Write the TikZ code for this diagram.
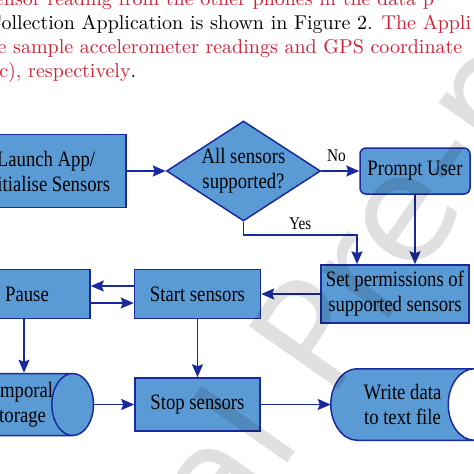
\documentclass[tikz,border=0pt]{standalone}
\usepackage{fontspec}
\usetikzlibrary{arrows.meta, positioning, calc, shapes.geometric, backgrounds}
\newfontfamily\chartfont[FakeStretch=0.85]{Liberation Serif}
\newfontfamily\paperfont{lmroman10-regular.otf}
\newfontfamily\markfont{DejaVu Sans}
\definecolor{boxblue}{HTML}{5B9BD5}
\definecolor{lineblue}{HTML}{1A2A9E}
\definecolor{textred}{HTML}{CC2136}
\tikzset{
    box/.style={rectangle, draw=lineblue, fill=boxblue, line width=1.5pt, align=center, inner sep=2pt, font=\chartfont\fontsize{22}{25}\selectfont},
    roundbox/.style={box, rounded corners=6pt},
    decision/.style={box, diamond, aspect=1.5, inner sep=-3pt, minimum width=154pt, minimum height=100pt},
    store/.style={box, cylinder, shape aspect=0.85, cylinder uses custom fill, cylinder body fill=boxblue, cylinder end fill=boxblue, inner xsep=-2pt, minimum width=62pt, minimum height=100pt},
    filebox/.style={box, draw=none, fill=none},
    edgetext/.style={font=\chartfont\fontsize{18}{20}\selectfont, inner sep=1pt},
    papertext/.style={anchor=base west, inner sep=0pt, font=\paperfont\fontsize{20}{24}\selectfont},
    watermark/.style={font=\markfont\fontsize{150}{150}\selectfont, text=black, text opacity=0.12, inner sep=0pt},
    arrow/.style={-{Stealth[length=13pt, width=11pt, inset=2pt]}, line width=1.6pt, draw=lineblue}
}
\begin{document}
\begin{tikzpicture}[x=1pt, y=-1pt]
    \useasboundingbox (0,0) rectangle (474,474);
    % lines of the paper above the figure
    \node[papertext, text=textred] (line1) at (-13,5) {sensor reading from the other phones in the data p};
    \node[papertext] (line2) at (-13,29) {Collection Application is shown in Figure 2. \textcolor{textred}{The Appli}};
    \node[papertext, text=textred] (line3) at (-21.5,53) {the sample accelerometer readings and GPS coordinate};
    \node[papertext] (line4) at (-8.7,77) {\textcolor{textred}{(c), respectively}.};
    % flowchart
    \node[box, minimum width=160pt, minimum height=73pt] (launch) at (46,171) {Launch App/\\Initialise Sensors};
    \node[decision, right=39pt of launch] (check) {All sensors\\supported?};
    \node[roundbox, right=38pt of check, minimum width=110pt, minimum height=46pt] (prompt) {Prompt User};
    \node[box, minimum width=148pt, minimum height=58pt] (perm) at (395,294) {Set permissions of\\supported sensors};
    \node[box, left=59pt of perm, minimum width=126pt, minimum height=49pt] (start) {Start sensors};
    \node[box, left=43pt of start, minimum width=126pt, minimum height=49pt] (pause) {Pause};
    \node[box, below=58pt of start, minimum width=125pt, minimum height=53pt] (stop) {Stop sensors};
    \node[store, left=40pt of stop] (temp) {Temporal\\Storage};
    \node[filebox, right=70pt of stop, minimum width=142pt, minimum height=70pt] (write) {Write data\\to text file};
    \begin{scope}[on background layer]
        \draw[draw=lineblue, fill=boxblue, line width=1.5pt] ([xshift=26pt]write.north west) -- (write.north east)
            .. controls ([xshift=-14pt]write.north east) and ([xshift=-26pt, yshift=-16pt]write.north east) .. ([xshift=-26pt]write.east)
            .. controls ([xshift=-26pt, yshift=16pt]write.south east) and ([xshift=-14pt]write.south east) .. (write.south east)
            -- ([xshift=26pt]write.south west)
            .. controls ([xshift=12pt]write.south west) and ([yshift=-19pt]write.west) .. (write.west)
            .. controls ([yshift=19pt]write.west) and ([xshift=12pt]write.north west) .. cycle;
    \end{scope}
    \draw[arrow] (launch) -- (check);
    \draw[arrow] (check) -- node[edgetext, above=8pt, pos=0.4] (no) {No} (prompt);
    \draw[arrow] (check.south) -- ++(0,13) -| node[edgetext, pos=0.25, above=3pt] (yes) {Yes} ([xshift=-38pt]perm.north);
    \draw[arrow] (prompt) -- (prompt |- perm.north);
    \draw[arrow] (perm) -- (start);
    \draw[arrow] ([yshift=8pt]start.west) -- ([yshift=8pt]pause.east);
    \draw[arrow] ([yshift=-9pt]pause.east) -- ([yshift=-9pt]start.west);
    \draw[arrow] ([xshift=-3pt]pause.south) -- ([xshift=-3pt]pause.south |- temp.north);
    \draw[arrow] (start) -- (stop);
    \draw[arrow] (temp) -- (stop);
    \draw[arrow] (stop) -- (write);
    % watermark
    \node[watermark, rotate=55] (mark) at (330,330) {Journal Pre-proof};
\end{tikzpicture}
\end{document}
